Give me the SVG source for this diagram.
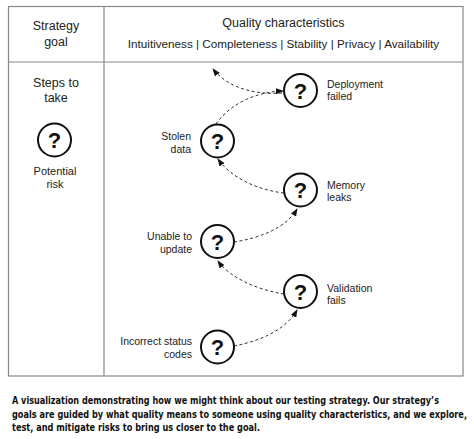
<svg xmlns="http://www.w3.org/2000/svg" width="474" height="439" viewBox="0 0 474 439">
<style>
.t{font-family:"Liberation Sans",Arial,sans-serif;fill:#222}
.h{font-size:12.5px}
.n{font-size:10.5px}
.c{fill:#fff;stroke:#111;stroke-width:2}
.q{font-family:"Liberation Sans",Arial,sans-serif;font-weight:bold;font-size:22px;fill:#111;text-anchor:middle}
.e{fill:none;stroke:#333;stroke-width:1;stroke-dasharray:3 2.5}
.cap{font-family:"DejaVu Sans Condensed","Liberation Sans",Arial,sans-serif;font-stretch:condensed;font-weight:bold;font-size:9px;fill:#111}
</style>
<defs>
<marker id="ah" viewBox="0 0 8 6" refX="7" refY="3" markerWidth="8" markerHeight="6" markerUnits="userSpaceOnUse" orient="auto">
<path d="M0,0 L8,3 L0,6 Z" fill="#111"/>
</marker>
</defs>
<rect width="474" height="439" fill="#fff"/>
<g id="table" fill="none" stroke="#888" stroke-width="1.2">
<rect x="8.5" y="6.5" width="454.5" height="369.5"/>
<line x1="104" y1="6.5" x2="104" y2="376"/>
<line x1="8.5" y1="62" x2="463" y2="62"/>
</g>
<g id="header-goal">
<text class="t h" x="56" y="30" text-anchor="middle">Strategy</text>
<text class="t h" x="56" y="46" text-anchor="middle">goal</text>
</g>
<g id="header-quality">
<text class="t h" x="283.5" y="27" text-anchor="middle">Quality characteristics</text>
<text class="t" x="283.5" y="48" text-anchor="middle" font-size="11.7">Intuitiveness | Completeness | Stability | Privacy | Availability</text>
</g>
<g id="legend">
<text class="t h" x="56" y="87" text-anchor="middle">Steps to</text>
<text class="t h" x="56" y="102" text-anchor="middle">take</text>
<circle class="c" cx="54.5" cy="140" r="16.5"/>
<text class="q" x="54.5" y="148">?</text>
<text class="t" font-size="11" x="55" y="175" text-anchor="middle">Potential</text>
<text class="t" font-size="11" x="55" y="188" text-anchor="middle">risk</text>
</g>
<g id="connectors">
<path class="e" d="M234,346 C260,341 286,330 297,310" marker-end="url(#ah)"/>
<path class="e" d="M284,294 C258,290 230,278 218,261" marker-end="url(#ah)"/>
<path class="e" d="M234,242 C260,238 286,228 297,209" marker-end="url(#ah)"/>
<path class="e" d="M284,193 C258,190 231,178 218,159" marker-end="url(#ah)"/>
<path class="e" d="M216,124 C230,104 255,92 283,91" marker-end="url(#ah)"/>
<path class="e" d="M282,93 C255,95 228,88 213,69" marker-end="url(#ah)"/>
</g>
<g id="deployment-failed">
<circle class="c" cx="300.5" cy="90.5" r="16.5"/>
<text class="q" x="300.5" y="98.5">?</text>
<text class="t n" x="327" y="88">Deployment</text>
<text class="t n" x="327" y="100">failed</text>
</g>
<g id="stolen-data">
<circle class="c" cx="217.5" cy="141" r="16.5"/>
<text class="q" x="217.5" y="149">?</text>
<text class="t n" x="191" y="140" text-anchor="end">Stolen</text>
<text class="t n" x="191" y="153" text-anchor="end">data</text>
</g>
<g id="memory-leaks">
<circle class="c" cx="300.5" cy="190" r="16.5"/>
<text class="q" x="300.5" y="198">?</text>
<text class="t n" x="327" y="189">Memory</text>
<text class="t n" x="327" y="201">leaks</text>
</g>
<g id="unable-to-update">
<circle class="c" cx="217.5" cy="241.5" r="16.5"/>
<text class="q" x="217.5" y="249.5">?</text>
<text class="t n" x="192" y="240" text-anchor="end">Unable to</text>
<text class="t n" x="192" y="253" text-anchor="end">update</text>
</g>
<g id="validation-fails">
<circle class="c" cx="300.5" cy="291.5" r="16.5"/>
<text class="q" x="300.5" y="299.5">?</text>
<text class="t n" x="327" y="292">Validation</text>
<text class="t n" x="327" y="304">fails</text>
</g>
<g id="incorrect-status-codes">
<circle class="c" cx="217.5" cy="347" r="16.5"/>
<text class="q" x="217.5" y="355">?</text>
<text class="t n" x="192" y="345" text-anchor="end">Incorrect status</text>
<text class="t n" x="192" y="358" text-anchor="end">codes</text>
</g>
<g id="caption">
<text class="cap" transform="translate(12,404) scale(1,1.15)" x="0" y="0" textLength="427" lengthAdjust="spacingAndGlyphs">A visualization demonstrating how we might think about our testing strategy. Our strategy’s</text>
<text class="cap" transform="translate(12,418) scale(1,1.15)" x="0" y="0" textLength="455" lengthAdjust="spacingAndGlyphs">goals are guided by what quality means to someone using quality characteristics, and we explore,</text>
<text class="cap" transform="translate(12,431) scale(1,1.15)" x="0" y="0" textLength="248" lengthAdjust="spacingAndGlyphs">test, and mitigate risks to bring us closer to the goal.</text>
</g>
</svg>
